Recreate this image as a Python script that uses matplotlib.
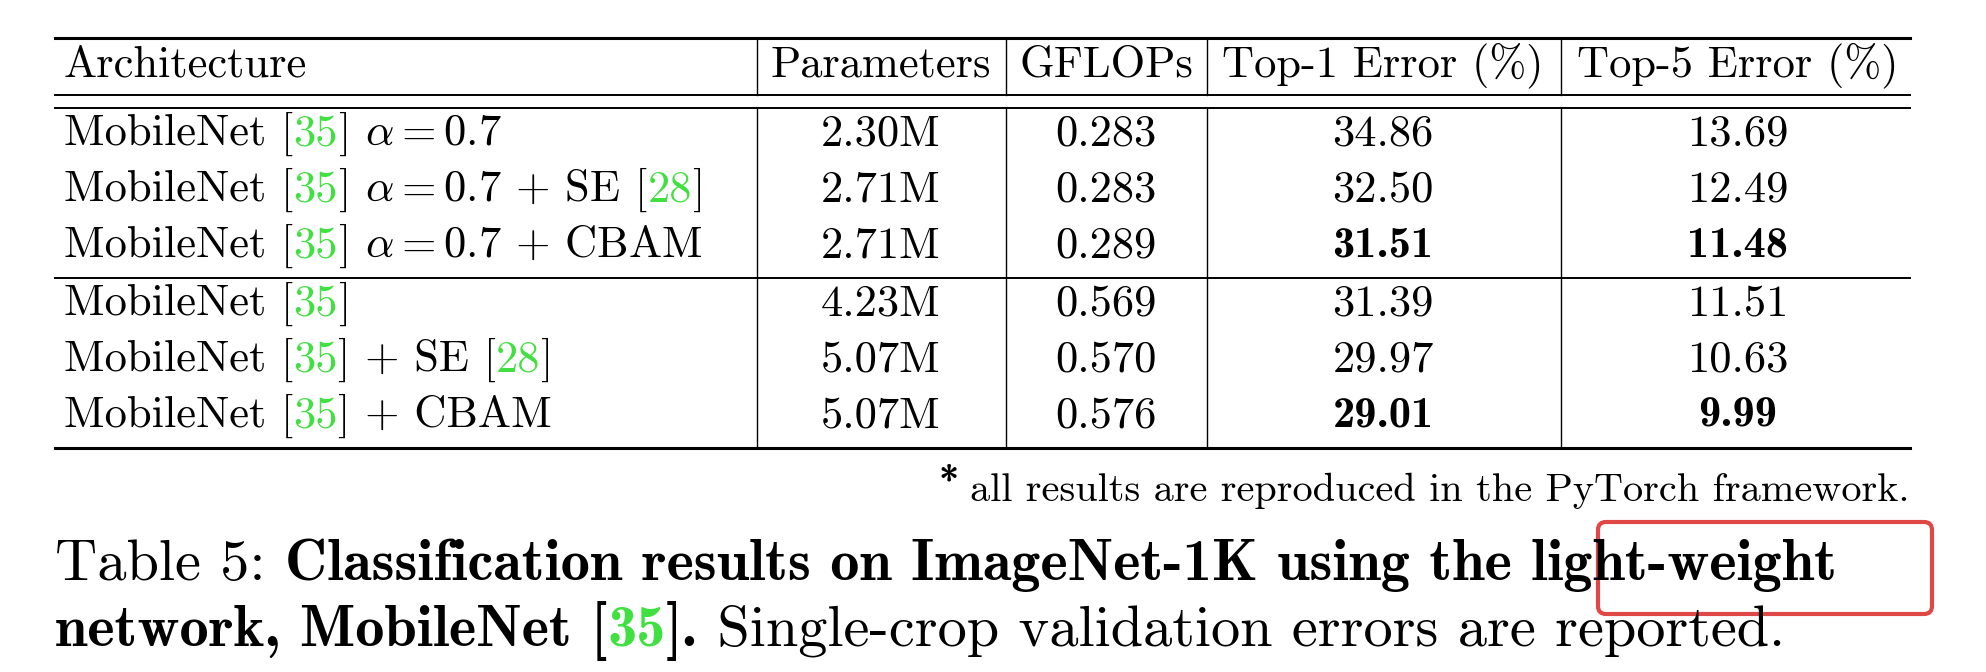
import matplotlib.pyplot as plt
from matplotlib.patches import FancyBboxPatch

plt.rcParams['mathtext.fontset'] = 'cm'

GREEN = '#3fe03f'
headers = ['Parameters', 'GFLOPs', 'Top-1 Error (%)', 'Top-5 Error (%)']
arch = [
    [('MobileNet [', 'k'), ('35', GREEN), (r'] $\alpha = 0.7$', 'k')],
    [('MobileNet [', 'k'), ('35', GREEN), (r'] $\alpha = 0.7$ + SE [', 'k'), ('28', GREEN), (']', 'k')],
    [('MobileNet [', 'k'), ('35', GREEN), (r'] $\alpha = 0.7$ + CBAM', 'k')],
    [('MobileNet [', 'k'), ('35', GREEN), (']', 'k')],
    [('MobileNet [', 'k'), ('35', GREEN), ('] + SE [', 'k'), ('28', GREEN), (']', 'k')],
    [('MobileNet [', 'k'), ('35', GREEN), ('] + CBAM', 'k')],
]
params = ['2.30M', '2.71M', '2.71M', '4.23M', '5.07M', '5.07M']
gflops = ['0.283', '0.283', '0.289', '0.569', '0.570', '0.576']
top1 = ['34.86', '32.50', '31.51', '31.39', '29.97', '29.01']
top5 = ['13.69', '12.49', '11.48', '11.51', '10.63', '9.99']
best = [2, 5]

W, H = 1986, 672
fig = plt.figure(figsize=(W / 100, H / 100), dpi=100)
ax = fig.add_axes([0, 0, 1, 1])
ax.set_xlim(0, W)
ax.set_ylim(H, 0)
ax.axis('off')
fig.canvas.draw()
renderer = fig.canvas.get_renderer()

FS = 32
REG, BOLD = 'cmr10', 'cmb10'


def runs(x, y, pieces, fs=FS):
    # draw colored pieces one after another
    for txt, col, fam in pieces:
        t = ax.text(x, y, txt, color=col, family=fam, fontsize=fs, va='center', ha='left')
        x += t.get_window_extent(renderer).width
    return x


L, R = 55, 1910
vx = [757, 1006, 1207, 1561]
cx = [881, 1106, 1383, 1738]
ys = [134, 190, 246, 304, 360, 416]

# rules
ax.plot([L, R], [38, 38], color='k', lw=2.2)
ax.plot([L, R], [95, 95], color='k', lw=1.4)
ax.plot([L, R], [108, 108], color='k', lw=1.4)
ax.plot([L, R], [278, 278], color='k', lw=1.4)
ax.plot([L, R], [448, 448], color='k', lw=2.2)
for v in vx:
    ax.plot([v, v], [38, 95], color='k', lw=1)
    ax.plot([v, v], [108, 448], color='k', lw=1)

ax.text(64, 65, 'Architecture', family=REG, fontsize=FS, va='center')
for c, h in zip(cx, headers):
    ax.text(c, 65, h, family=REG, fontsize=FS, va='center', ha='center')

for i, y in enumerate(ys):
    runs(64, y, [(t, c, REG) for t, c in arch[i]])
    ax.text(cx[0], y, params[i], family=REG, fontsize=FS, va='center', ha='center')
    ax.text(cx[1], y, gflops[i], family=REG, fontsize=FS, va='center', ha='center')
    fam = BOLD if i in best else REG
    ax.text(cx[2], y, top1[i], family=fam, fontsize=FS, va='center', ha='center')
    ax.text(cx[3], y, top5[i], family=fam, fontsize=FS, va='center', ha='center')

# footnote
t = ax.text(R, 491, 'all results are reproduced in the PyTorch framework.', family=REG,
            fontsize=29, va='center', ha='right')
bb = t.get_window_extent(renderer)
ax.text(bb.x0 - 12, 484, '*', family=BOLD, fontsize=29, va='center', ha='right')

# caption
CF = 42
runs(L, 565, [('Table 5: ', 'k', REG),
              ('Classification results on ImageNet-1K using the light-weight', 'k', BOLD)], CF)
runs(L, 631, [('network, MobileNet [', 'k', BOLD), ('35', GREEN, BOLD), ('].', 'k', BOLD),
              (' Single-crop validation errors are reported.', 'k', REG)], CF)

box = FancyBboxPatch((1598, 522), 334, 92, boxstyle='round,pad=0,rounding_size=8',
                     fill=False, edgecolor='#e04848', lw=3)
ax.add_patch(box)

fig.savefig('out.png', dpi=100)
